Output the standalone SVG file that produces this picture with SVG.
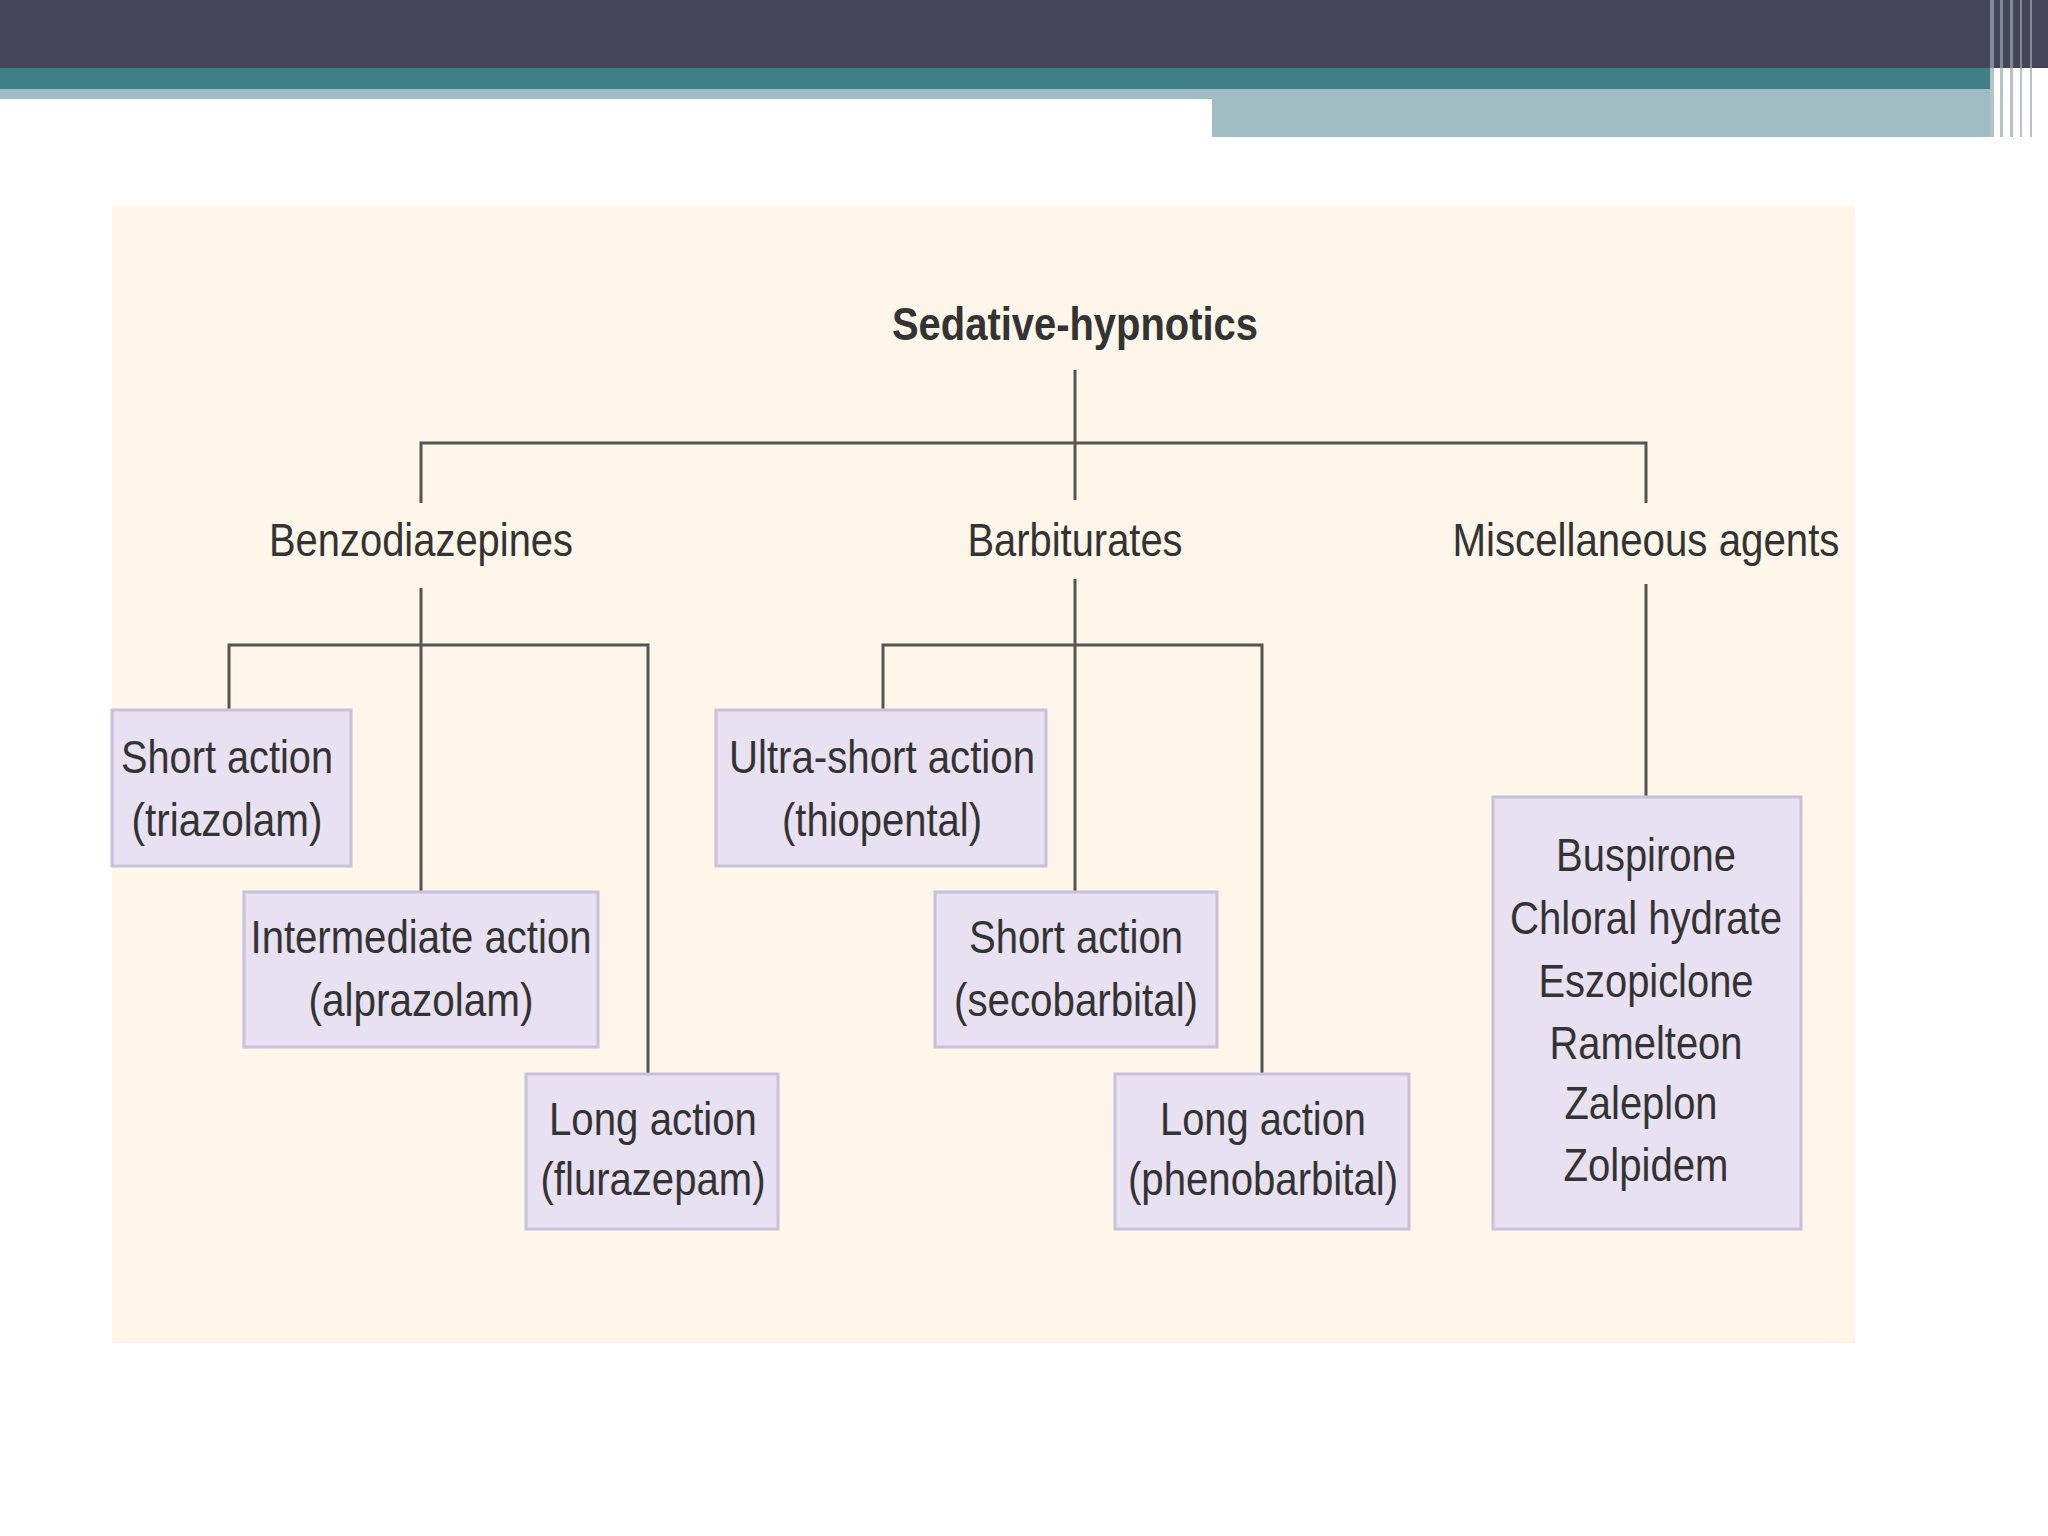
<svg xmlns="http://www.w3.org/2000/svg" width="2048" height="1536" viewBox="0 0 2048 1536">
<style>
text{font-family:"Liberation Sans",Arial,sans-serif;fill:#333;text-anchor:middle;font-size:46px}
.b{fill:#e8e1f1;stroke:#cbc0dc;stroke-width:3}
.c{stroke:#555;stroke-width:3;fill:none}
</style>
<rect width="2048" height="1536" fill="#fff"/>
<rect x="0" y="0" width="2048" height="68" fill="#45455a"/>
<rect x="0" y="68" width="1990" height="21" fill="#3f7f87"/>
<rect x="0" y="89" width="1212" height="10" fill="#9fbdc2"/>
<rect x="1212" y="89" width="778" height="48" fill="#9fbdc2"/>
<g fill="#9aa" opacity="0.7"><rect x="1990" y="0" width="4" height="137"/><rect x="2000" y="0" width="3" height="137"/><rect x="2010" y="0" width="3" height="137"/><rect x="2020" y="0" width="2" height="137"/><rect x="2030" y="0" width="2" height="137"/></g>
<rect x="112" y="206" width="1743" height="1137" fill="#fdf6e9"/>
<g id="connectors" class="c">
<path d="M1075 370V500M421 503V443H1646V503M421 588V892M229 710V645H648V1074M1075 579V892M883 710V645H1262V1074M1646 584V797"/>
</g>
<g id="title"><text x="1075" y="340" font-weight="bold" textLength="366" lengthAdjust="spacingAndGlyphs">Sedative-hypnotics</text></g>
<g id="benzo"><text x="421" y="556" textLength="304" lengthAdjust="spacingAndGlyphs">Benzodiazepines</text></g>
<g id="barb"><text x="1075" y="556" textLength="215" lengthAdjust="spacingAndGlyphs">Barbiturates</text></g>
<g id="misc"><text x="1646" y="556" textLength="387" lengthAdjust="spacingAndGlyphs">Miscellaneous agents</text></g>
<g id="b1"><rect class="b" x="112" y="710" width="239" height="156"/><text x="227" y="773" textLength="212" lengthAdjust="spacingAndGlyphs">Short action</text><text x="227" y="836" textLength="191" lengthAdjust="spacingAndGlyphs">(triazolam)</text></g>
<g id="b2"><rect class="b" x="244" y="892" width="354" height="155"/><text x="421" y="953" textLength="341" lengthAdjust="spacingAndGlyphs">Intermediate action</text><text x="421" y="1016" textLength="225" lengthAdjust="spacingAndGlyphs">(alprazolam)</text></g>
<g id="b3"><rect class="b" x="526" y="1074" width="252" height="155"/><text x="653" y="1135" textLength="208" lengthAdjust="spacingAndGlyphs">Long action</text><text x="653" y="1195" textLength="225" lengthAdjust="spacingAndGlyphs">(flurazepam)</text></g>
<g id="r1"><rect class="b" x="716" y="710" width="330" height="156"/><text x="882" y="773" textLength="306" lengthAdjust="spacingAndGlyphs">Ultra-short action</text><text x="882" y="836" textLength="200" lengthAdjust="spacingAndGlyphs">(thiopental)</text></g>
<g id="r2"><rect class="b" x="935" y="892" width="282" height="155"/><text x="1076" y="953" textLength="214" lengthAdjust="spacingAndGlyphs">Short action</text><text x="1076" y="1016" textLength="244" lengthAdjust="spacingAndGlyphs">(secobarbital)</text></g>
<g id="r3"><rect class="b" x="1115" y="1074" width="294" height="155"/><text x="1263" y="1135" textLength="206" lengthAdjust="spacingAndGlyphs">Long action</text><text x="1263" y="1195" textLength="270" lengthAdjust="spacingAndGlyphs">(phenobarbital)</text></g>
<g id="m1"><rect class="b" x="1493" y="797" width="308" height="432"/>
<text x="1646" y="871" textLength="180" lengthAdjust="spacingAndGlyphs">Buspirone</text>
<text x="1646" y="934" textLength="272" lengthAdjust="spacingAndGlyphs">Chloral hydrate</text>
<text x="1646" y="997" textLength="215" lengthAdjust="spacingAndGlyphs">Eszopiclone</text>
<text x="1646" y="1059" textLength="193" lengthAdjust="spacingAndGlyphs">Ramelteon</text>
<text x="1641" y="1119" textLength="153" lengthAdjust="spacingAndGlyphs">Zaleplon</text>
<text x="1646" y="1181" textLength="165" lengthAdjust="spacingAndGlyphs">Zolpidem</text></g>
</svg>
